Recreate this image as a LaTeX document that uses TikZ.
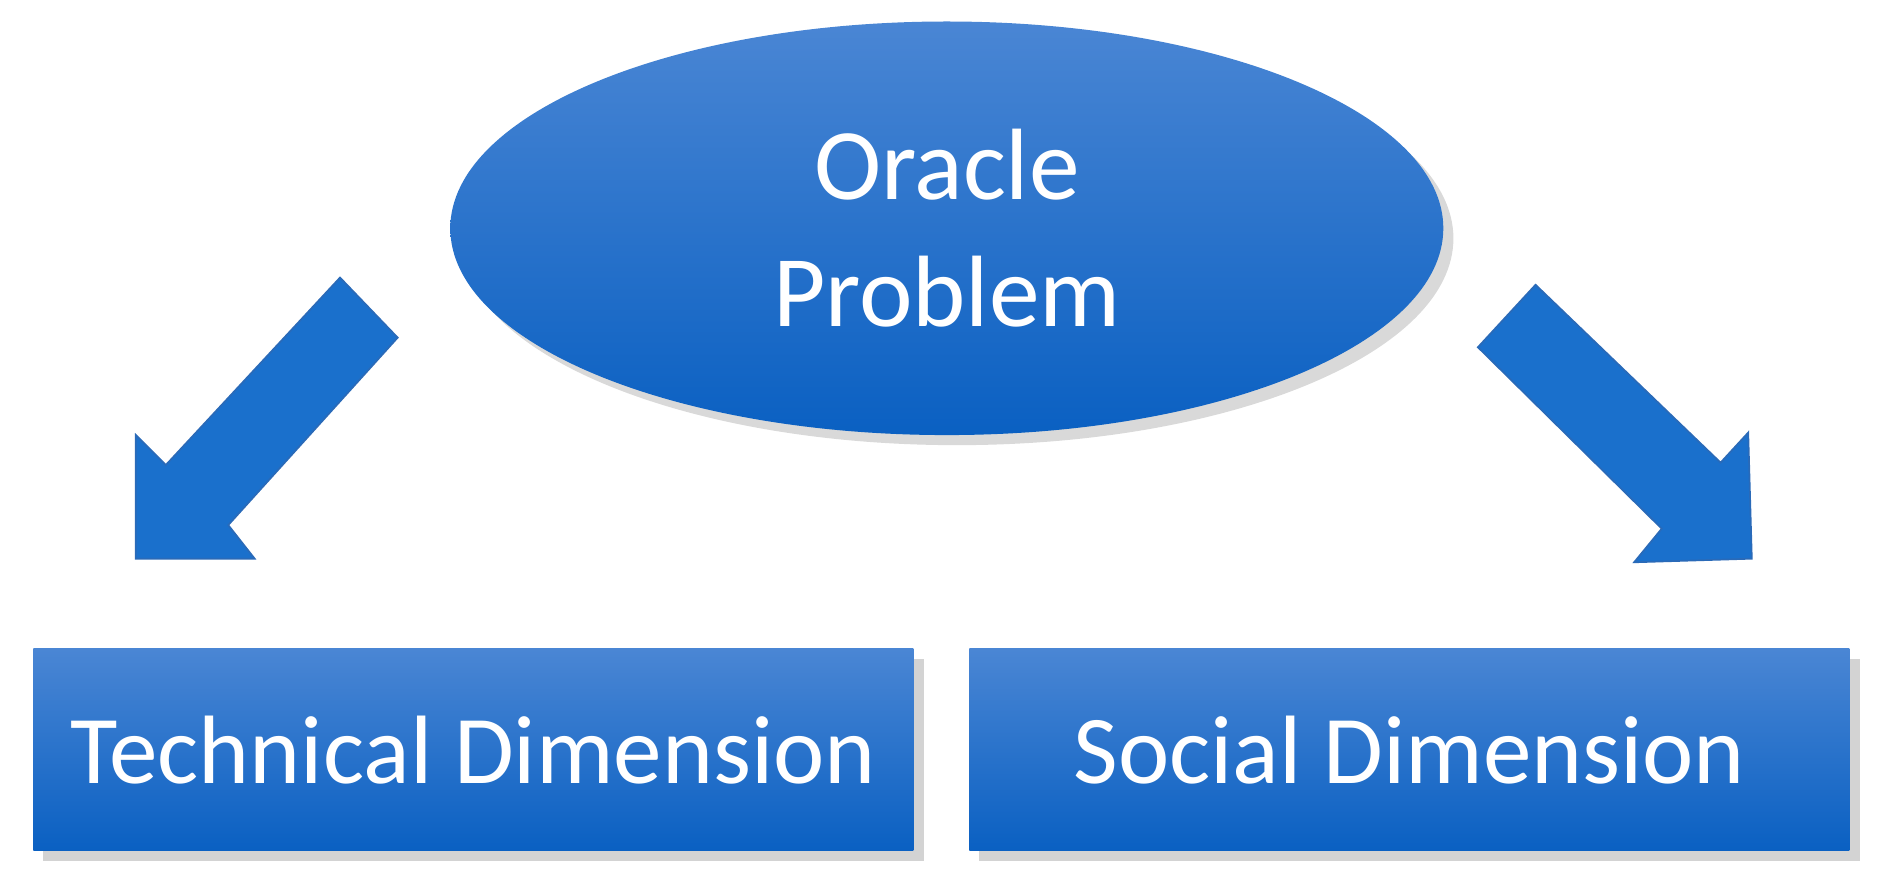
\documentclass[tikz,border=0pt]{standalone}
\usepackage{fontspec}
\setmainfont{Carlito}
\usetikzlibrary{shapes.geometric,shadows}

\definecolor{bluetop}{HTML}{4A86D4}
\definecolor{bluemid}{HTML}{0A6ACC}
\definecolor{bluebot}{HTML}{0A60C2}
\definecolor{blueedge}{HTML}{2A6AB8}
\definecolor{bluearrow}{HTML}{1A70CC}

\tikzset{
    blueshade/.style={top color=bluetop, middle color=bluemid, bottom color=bluebot},
    oracle/.style={ellipse, blueshade, minimum width=8.26cm, minimum height=3.44cm,
        drop shadow={opacity=0.3}, text=white, align=center, font=\fontsize{24}{28}\selectfont},
    dimbox/.style={rectangle, blueshade, minimum width=7.32cm, minimum height=1.68cm,
        drop shadow={opacity=0.35}, text=white, font=\fontsize{23}{27}\selectfont},
    bigarrow/.style={fill=bluearrow, draw=blueedge, line width=0.4pt}
}

\begin{document}
\begin{tikzpicture}[x=0.01cm, y=-0.01cm]

    \useasboundingbox (0,0) rectangle (1568,734);

    \node[oracle] (problem) at (788,190) {Oracle\\[2pt]Problem};

    \node[dimbox] (technical) at (394,624) {Technical Dimension};
    \node[dimbox] (social)    at (1173,624) {Social Dimension};

    % Pfeil links
    \draw[bigarrow] (283,231) -- (331,281) -- (190,437) -- (212,465) -- (113,465)
        -- (113,362) -- (138,387) -- cycle;
    % Pfeil rechts
    \draw[bigarrow] (1278,237) -- (1230,289) -- (1383,440) -- (1360,468) -- (1458,465)
        -- (1455,360) -- (1432,385) -- cycle;

\end{tikzpicture}
\end{document}
